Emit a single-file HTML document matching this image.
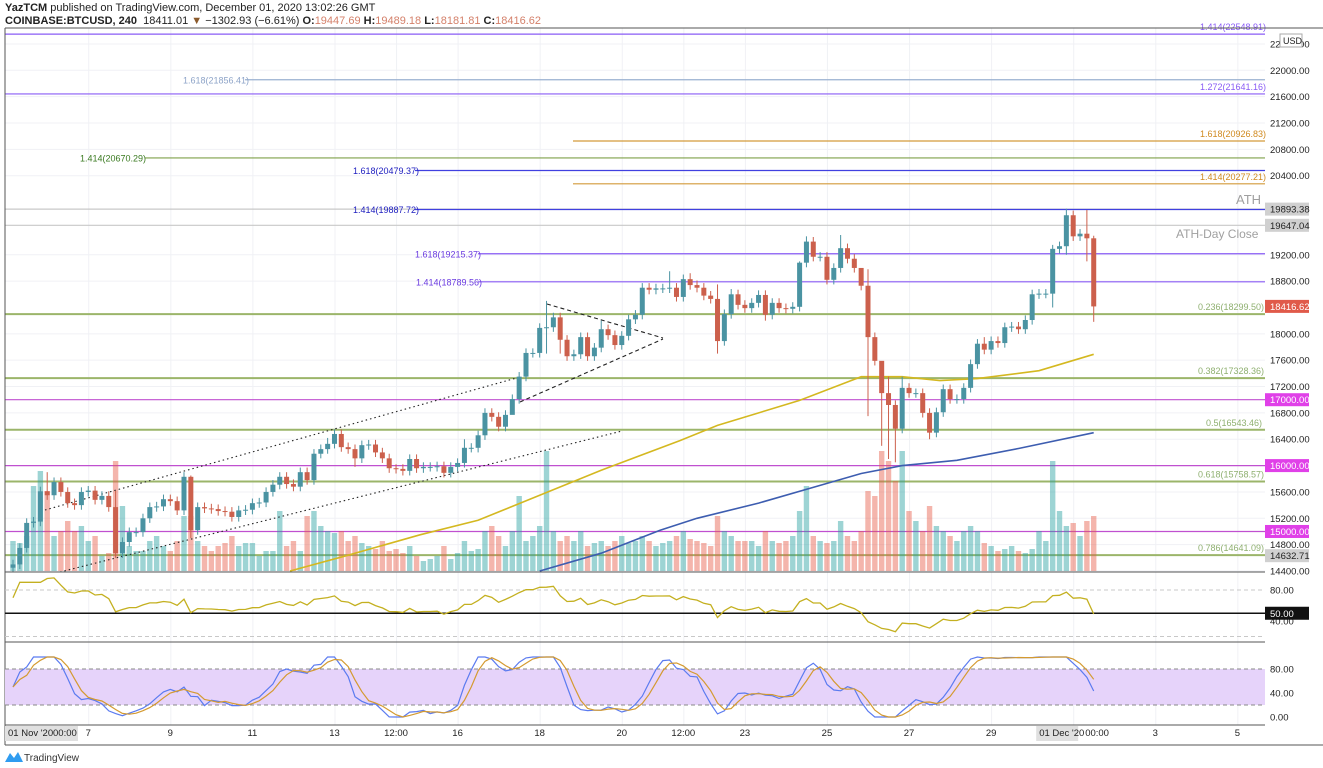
<!DOCTYPE html>
<html><head><meta charset="utf-8"><style>
html,body{margin:0;padding:0;background:#fff;width:1323px;height:768px;overflow:hidden;font-family:"Liberation Sans",sans-serif}
#hdr{position:absolute;left:5px;top:2px;font-size:11px;color:#222;line-height:13px}
#hdr b{font-weight:bold}
.pk{color:#d4806a}
svg{position:absolute;left:0;top:0}
text{font-family:"Liberation Sans",sans-serif}
</style></head><body>
<div id="hdr">
<div><b>YazTCM</b> published on TradingView.com, December 01, 2020 13:02:26 GMT</div>
<div><b>COINBASE:BTCUSD, 240</b>&nbsp; 18411.01 <span style="color:#8b5a2b">▼</span> −1302.93 (−6.61%) <b>O:</b><span class="pk">19447.69</span> <b>H:</b><span class="pk">19489.18</span> <b>L:</b><span class="pk">18181.81</span> <b>C:</b><span class="pk">18416.62</span></div>
</div>
<svg id="chart" width="1323" height="768"></svg>
<script>
const closes=[14500,14750,15130,15150,15610,15550,15750,15600,15430,15400,
15600,15620,15480,15540,15370,14670,14840,14990,14990,15200,
15370,15380,15490,15460,15320,15830,15020,15370,15350,15340,
15310,15300,15220,15320,15330,15430,15440,15600,15710,15830,
15720,15680,15900,15780,16180,16250,16330,16480,16280,16250,
16110,16310,16320,16200,16110,15960,15950,15920,16100,15960,
15980,15980,15990,15890,15980,16040,16270,16270,16460,16800,
16740,16590,16770,17010,17350,17710,17710,18090,18100,18250,
17910,17660,17690,17950,17660,17790,18070,17980,17830,17970,
18220,18290,18700,18670,18690,18690,18700,18560,18830,18740,
18700,18580,18530,17890,18300,18600,18440,18390,18470,18590,
18290,18470,18390,18380,18410,19080,19400,19170,19170,18820,
19000,19300,19140,19000,18730,17950,17590,17100,16920,16560,
17180,17100,17100,16800,16500,16810,17160,17010,17010,17180,
17540,17850,17760,17890,17860,18100,18110,18070,18210,18600,
18610,18610,19290,19330,19800,19480,19520,19450,18416];
const firstOpen=14450;
const wickDefault=70;
const wickHigh={5:15900,15:15620,26:15850,46:16420,56:16020,66:16400,78:18500,86:18200,96:18950,99:18920,103:18750,105:18680,115:19100,116:19480,121:19500,124:18900,125:18980,127:17400,128:17350,130:17350,142:17950,152:19350,154:19900,157:19880,158:19489};
const wickLow={15:14600,26:14900,50:15980,73:16900,78:17700,80:17700,103:17700,110:18200,125:16750,127:16300,128:16100,129:16050,134:16400,152:18400,154:19200,157:19100,158:18182};
const volumes=[30,28,35,85,100,80,35,40,50,40,
45,30,35,15,18,110,65,25,20,20,
30,35,25,20,30,55,55,30,25,20,
25,28,35,25,28,28,15,20,20,60,
25,30,20,55,60,45,40,38,40,30,
35,28,25,22,30,20,22,18,25,15,
10,12,15,25,12,18,30,20,22,40,
45,35,25,40,75,30,35,45,120,40,
30,35,30,40,25,28,30,25,30,35,
28,30,35,30,25,28,30,35,40,32,
30,28,25,55,40,35,30,30,30,25,
40,30,28,30,35,60,85,35,30,28,
30,50,35,30,40,80,75,120,110,90,
120,60,50,40,65,45,40,35,30,40,
45,40,28,25,20,22,25,20,18,22,
40,30,110,60,45,48,35,50,55];
const ma100Idx=[40.5,49,59.5,68,77,86,97.5,103,115,124,130,135.5,141,150,158];
const ma100Val=[14400,14640,14950,15170,15550,15930,16380,16610,16990,17350,17350,17290,17320,17440,17690];
const ma200Idx=[77,86,94.6,100,109,118,124,130,138,147,158];
const ma200Val=[14400,14670,15020,15200,15430,15700,15880,16000,16080,16260,16500];
const priceTicks=[22400,22000,21600,21200,20800,20400,19200,18800,18000,17600,17200,16800,16400,15600,15200,14800,14400];
const timeLabels=["7","9","11","13","12:00","16","18","20","12:00","23","25","27","29","3","5"];
const timeLabelIdx=[11,23,35,47,56,65,77,89,98,107,119,131,143,167,179];
const decIdx=155;

const svg=document.getElementById('chart');
const NS='http://www.w3.org/2000/svg';
const PL=5,PR=1265;
function y(p){return 571-(p-14400)*0.06588;}
function x(i){return 13+i*6.84;}
function mk(tag,attrs,parent){const e=document.createElementNS(NS,tag);for(const k in attrs)e.setAttribute(k,attrs[k]);(parent||svg).appendChild(e);return e;}
function tx(s,xx,yy,attrs,parent){const e=mk('text',Object.assign({x:xx,y:yy,'font-size':10},attrs),parent);e.textContent=s;return e;}

const grid=mk('g',{});


priceTicks.forEach(p=>mk('line',{x1:PL,x2:PR,y1:y(p),y2:y(p),stroke:'#f0f1f5'},grid));
timeLabelIdx.concat([decIdx]).forEach(i=>{const xx=x(i)+0.5;mk('line',{x1:xx,x2:xx,y1:28,y2:725,stroke:'#f0f1f5'},grid);});

const levels=[
 {p:22548.91,x1:PL,c:'#8a5cf5',lab:'1.414(22548.91)',lx:1200,side:'r',lc:'#8a5cf5',name:'fib-1414-22548'},
 {p:21856.41,x1:245,c:'#9ab0d0',lab:'1.618(21856.41)',lx:183,side:'l',lc:'#8ea4c8',name:'fib-1618-21856'},
 {p:21641.16,x1:PL,c:'#8a5cf5',lab:'1.272(21641.16)',lx:1200,side:'r',lc:'#8a5cf5',name:'fib-1272-21641'},
 {p:20926.83,x1:573,c:'#d39a3a',lab:'1.618(20926.83)',lx:1200,side:'r',lc:'#d08a20',name:'fib-1618-20926'},
 {p:20670.29,x1:145,c:'#7fa04a',lab:'1.414(20670.29)',lx:80,side:'l',lc:'#3a7a20',name:'fib-1414-20670'},
 {p:20479.37,x1:415,c:'#4040e0',lab:'1.618(20479.37)',lx:353,side:'l',lc:'#2020c0',name:'fib-1618-20479'},
 {p:20277.21,x1:573,c:'#d39a3a',lab:'1.414(20277.21)',lx:1200,side:'r',lc:'#d08a20',name:'fib-1414-20277'},
 {p:19893.38,x1:PL,c:'#c8c8c8',name:'ath-line'},
 {p:19887.72,x1:415,c:'#4040e0',lab:'1.414(19887.72)',lx:353,side:'l',lc:'#2020c0',name:'fib-1414-19887'},
 {p:19647.04,x1:PL,c:'#c8c8c8',name:'ath-close-line'},
 {p:19215.37,x1:478,c:'#8a5cf5',lab:'1.618(19215.37)',lx:415,side:'l',lc:'#6a3ae0',name:'fib-1618-19215'},
 {p:18789.56,x1:478,c:'#8a5cf5',lab:'1.414(18789.56)',lx:416,side:'l',lc:'#6a3ae0',name:'fib-1414-18789'},
 {p:18299.5,x1:PL,c:'#9bb56a',w:2,lab:'0.236(18299.50)',lx:1198,side:'r',lc:'#8fb070',name:'fib-0236'},
 {p:17328.36,x1:PL,c:'#9bb56a',w:2,lab:'0.382(17328.36)',lx:1198,side:'r',lc:'#8fb070',name:'fib-0382'},
 {p:17000,x1:PL,c:'#c050d0',name:'support-17000'},
 {p:16543.46,x1:PL,c:'#9bb56a',w:2,lab:'0.5(16543.46)',lx:1206,side:'r',lc:'#8fb070',name:'fib-05'},
 {p:16000,x1:PL,c:'#c050d0',name:'support-16000'},
 {p:15758.57,x1:PL,c:'#9bb56a',w:2,lab:'0.618(15758.57)',lx:1198,side:'r',lc:'#8fb070',name:'fib-0618'},
 {p:15000,x1:PL,c:'#c050d0',name:'support-15000'},
 {p:14641.09,x1:PL,c:'#9bb56a',w:2,lab:'0.786(14641.09)',lx:1198,side:'r',lc:'#8fb070',name:'fib-0786'}
];
levels.forEach(L=>{
 const g=mk('g',{});
 
 
 mk('line',{x1:L.x1,x2:PR,y1:y(L.p),y2:y(L.p),stroke:L.c,'stroke-width':L.w||1.2},g);
 if(L.lab){tx(L.lab,L.lx,y(L.p)+(L.side==='r'?-4:3.5),{fill:L.lc,'font-size':9},g);}
});
tx('ATH',1236,204,{fill:'#a0a0a0','font-size':13,});
tx('ATH-Day Close',1176,238,{fill:'#a0a0a0','font-size':12,});

const vg=mk('g',{});


closes.forEach((c,i)=>{
 const o=i?closes[i-1]:firstOpen;
 const r=mk('rect',{x:x(i)-2.7,y:571-volumes[i],width:5.4,height:volumes[i],fill:c>=o?'rgba(38,160,160,0.45)':'rgba(230,90,70,0.45)'},vg);
 
 
});

function maPath(idx,val,col,name){
 const d=idx.map((ii,k)=>(k?'L':'M')+x(ii).toFixed(1)+','+y(val[k]).toFixed(1)).join('');
 const p=mk('path',{d:d,fill:'none',stroke:col,'stroke-width':1.6});
 
 
}
maPath(ma100Idx,ma100Val,'#d4b820','ma-100-line');
maPath(ma200Idx,ma200Val,'#3d5db0','ma-200-line');

const tl=[[45,510,520,377,'1.5,3','upper-trendline'],[60,572,622,431,'1.5,3','lower-trendline'],[547,304,663,338,'4,3','triangle-top'],[520,402,663,339,'4,3','triangle-bottom']];
tl.forEach(t=>{const l=mk('line',{x1:t[0],y1:t[1],x2:t[2],y2:t[3],stroke:'#222','stroke-width':1.1,'stroke-dasharray':t[4]});});

const cg=mk('g',{});


closes.forEach((c,i)=>{
 const o=i?closes[i-1]:firstOpen;
 const up=c>=o;
 const col=up?'#4a93a2':'#cc604c';
 const hi=wickHigh[i]!==undefined?wickHigh[i]:Math.max(o,c)+wickDefault;
 const lo=wickLow[i]!==undefined?wickLow[i]:Math.min(o,c)-wickDefault;
 const g=mk('g',{},cg);
 
 
 mk('line',{x1:x(i),x2:x(i),y1:y(hi),y2:y(lo),stroke:col,'stroke-width':1},g);
 const t=y(Math.max(o,c)),b=y(Math.min(o,c));
 mk('rect',{x:x(i)-2.5,y:t,width:5,height:Math.max(1,b-t),fill:col},g);
});

[[572,'price-pane-bottom'],[642,'rsi-pane-bottom'],[725,'stoch-pane-bottom']].forEach(s=>{const l=mk('line',{x1:PL,x2:PR,y1:s[0],y2:s[0],stroke:'#555','stroke-width':1});});
mk('line',{x1:PL,x2:1323,y1:28,y2:28,stroke:'#555'});
mk('line',{x1:PL,x2:PL,y1:28,y2:745,stroke:'#555'});
mk('line',{x1:PL,x2:1323,y1:745,y2:745,stroke:'#555'});

const rsi=[];let ag=0,al=0;
closes.forEach((c,i)=>{
 if(i===0){rsi.push(70);return;}
 const d=c-closes[i-1];const n=Math.min(i,14);
 ag=(ag*(n-1)+Math.max(d,0))/n;al=(al*(n-1)+Math.max(-d,0))/n;
 rsi.push(al===0?90:100-100/(1+ag/al));
});
function ry(v){return 590+(80-v)*0.775;}
const rg=mk('g',{});


mk('line',{x1:PL,x2:PR,y1:ry(80),y2:ry(80),stroke:'#c8c8c8','stroke-dasharray':'4,3'},rg);
mk('line',{x1:PL,x2:PR,y1:ry(20),y2:ry(20),stroke:'#c8c8c8','stroke-dasharray':'4,3'},rg);
mk('line',{x1:PL,x2:PR,y1:ry(50),y2:ry(50),stroke:'#111','stroke-width':1.5},rg);
const rp=mk('path',{d:rsi.map((v,i)=>(i?'L':'M')+x(i).toFixed(1)+','+Math.max(576,Math.min(641,ry(v))).toFixed(1)).join(''),fill:'none',stroke:'#c4b020','stroke-width':1.3},rg);



const st=rsi.map((v,i)=>{const w=rsi.slice(Math.max(0,i-13),i+1);const mn=Math.min(...w),mx=Math.max(...w);return mx===mn?50:(v-mn)/(mx-mn)*100;});
const sma=(a,n)=>a.map((v,i)=>{const w=a.slice(Math.max(0,i-n+1),i+1);return w.reduce((s,q)=>s+q,0)/w.length;});
const K=sma(st,3),D=sma(K,3);
function sy(v){return 717-v*0.6;}
const sg=mk('g',{});


mk('rect',{x:PL,y:sy(80),width:PR-PL,height:sy(20)-sy(80),fill:'#e6d3fa'},sg);
mk('line',{x1:PL,x2:PR,y1:sy(80),y2:sy(80),stroke:'#888','stroke-dasharray':'4,3'},sg);
mk('line',{x1:PL,x2:PR,y1:sy(20),y2:sy(20),stroke:'#888','stroke-dasharray':'4,3'},sg);
const kp=mk('path',{d:K.map((v,i)=>(i?'L':'M')+x(i).toFixed(1)+','+sy(v).toFixed(1)).join(''),fill:'none',stroke:'#5b7bf0','stroke-width':1.2},sg);


const dp=mk('path',{d:D.map((v,i)=>(i?'L':'M')+x(i).toFixed(1)+','+sy(v).toFixed(1)).join(''),fill:'none',stroke:'#d49a30','stroke-width':1.2},sg);



const ax=mk('g',{});


priceTicks.forEach(p=>tx(p.toFixed(2),1270,y(p)+3.5,{fill:'#222','font-size':9.5},ax));
[[80,ry(80)],[40,ry(40)]].forEach(r=>tx(r[0].toFixed(2),1270,r[1]+3.5,{fill:'#222','font-size':9.5},ax));
[[80,sy(80)],[40,sy(40)],[0,sy(0)]].forEach(r=>tx(r[0].toFixed(2),1270,r[1]+3.5,{fill:'#222','font-size':9.5},ax));
function tag(s,yy,bg,fg,name){const g=mk('g',{},ax);mk('rect',{x:1265,y:yy-6.5,width:44,height:13,fill:bg},g);tx(s,1270,yy+3.5,{fill:fg,'font-size':9.5},g);}
tag('19893.38',y(19893.38),'#d0d0d0','#222','tag-ath');
tag('19647.04',y(19647.04),'#d0d0d0','#222','tag-ath-close');
tag('18416.62',y(18416.62),'#e05a4a','#fff','tag-last-price');
tag('17000.00',y(17000),'#e040e8','#fff','tag-17000');
tag('16000.00',y(16000),'#e040e8','#fff','tag-16000');
tag('15000.00',y(15000),'#e040e8','#fff','tag-15000');
tag('14632.71',y(14632.71),'#d0d0d0','#222','tag-14632');
tag('50.00',ry(50),'#111','#fff','tag-rsi-50');
const ub=mk('g',{},ax);
mk('rect',{x:1280,y:34,width:22,height:13,fill:'#fff',stroke:'#aaa'},ub);tx('USD',1283,44,{fill:'#222','font-size':9},ub);

const tg=mk('g',{});


timeLabels.forEach((s,k)=>tx(s,x(timeLabelIdx[k]),736,{fill:'#222','font-size':9.5,'text-anchor':'middle'},tg));
mk('rect',{x:5,y:726,width:73,height:15,fill:'#e0e0e0'},tg);
tx("01 Nov '20",8,736,{fill:'#222','font-size':9.5},tg);
tx("00:00",53,736,{fill:'#222','font-size':9.5},tg);
mk('rect',{x:x(decIdx)-37,y:726,width:42,height:15,fill:'#e0e0e0'},tg);
tx("01 Dec '20",x(decIdx)-34,736,{fill:'#222','font-size':9.5},tg);
tx("00:00",x(decIdx)+12,736,{fill:'#222','font-size':9.5},tg);

const lg=mk('g',{});


mk('path',{d:'M5,762 L10,753 L14,758 L18,752 L23,762 Z',fill:'#2f9cf0'},lg);
tx('TradingView',24,761,{fill:'#333','font-size':10},lg);
</script>
</body></html>
